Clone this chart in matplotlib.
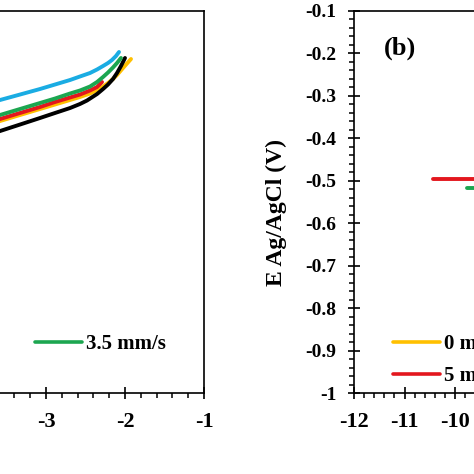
import matplotlib
matplotlib.use("Agg")
import matplotlib.pyplot as plt
from matplotlib.ticker import MultipleLocator, FuncFormatter

plt.rcParams['font.family'] = ['Liberation Serif', 'DejaVu Serif']
plt.rcParams['font.weight'] = 'bold'

# ---- data: panel (a) polarisation curves, log i vs E (V) ----
labels = ["0 mm/s", "5 mm/s", "1.5 mm/s", "2.5 mm/s", "3.5 mm/s"]
colors = ["#FFC000", "#E3171E", "#000000", "#1AACE3", "#1CA650"]

logi_0 = [-4.0, -3.582, -3.329, -3.076, -2.886, -2.696, -2.570, -2.443, -2.354,
          -2.278, -2.215, -2.152, -2.101, -2.025, -1.975, -1.924]
e_0 = [-0.3828, -0.3592, -0.3450, -0.3309, -0.3203, -0.3097, -0.3026, -0.2944,
       -0.2861, -0.2779, -0.2697, -0.2602, -0.2508, -0.2343, -0.2237, -0.2131]

logi_5 = [-4.0, -3.582, -3.329, -3.076, -2.886, -2.696, -2.570, -2.443, -2.354,
          -2.291]
e_5 = [-0.3780, -0.3545, -0.3403, -0.3262, -0.3144, -0.3038, -0.2968, -0.2873,
       -0.2791, -0.2673]

logi_blk = [-4.0, -3.582, -3.329, -3.076, -2.886, -2.696, -2.570, -2.481, -2.354,
            -2.278, -2.215, -2.152, -2.101, -2.051, -2.000]
e_blk = [-0.4087, -0.3828, -0.3675, -0.3521, -0.3403, -0.3286, -0.3191, -0.3109,
         -0.2956, -0.2838, -0.2732, -0.2602, -0.2461, -0.2296, -0.2107]

logi_cy = [-4.0, -3.582, -3.329, -3.076, -2.886, -2.696, -2.570, -2.443, -2.354,
           -2.278, -2.215, -2.165, -2.114, -2.076]
e_cy = [-0.3309, -0.3097, -0.2968, -0.2838, -0.2732, -0.2626, -0.2543, -0.2461,
        -0.2378, -0.2296, -0.2225, -0.2155, -0.2060, -0.1966]

logi_35 = [-4.0, -3.582, -3.329, -3.076, -2.886, -2.696, -2.570, -2.443, -2.354,
           -2.278, -2.215, -2.152, -2.101, -2.051]
e_35 = [-0.3686, -0.3450, -0.3309, -0.3168, -0.3062, -0.2944, -0.2873, -0.2779,
        -0.2673, -0.2555, -0.2449, -0.2331, -0.2225, -0.2107]

# ---- data: panel (b) ----
b_logi_5 = [-10.44, -9.0]
b_e_5 = [-0.496, -0.496]
b_logi_35 = [-9.76, -9.0]
b_e_35 = [-0.517, -0.517]

xt_a = [-7, -6, -5, -4, -3, -2, -1]
xt_b = [-12, -11, -10, -9, -8, -7, -6, -5, -4, -3, -2]
yt = [-1.0, -0.9, -0.8, -0.7, -0.6, -0.5, -0.4, -0.3, -0.2, -0.1]

W = H = 474
fig = plt.figure(figsize=(4.74, 4.74), dpi=100)

bot = 1 - 393 / H
hgt = (393 - 11) / H
ax1 = fig.add_axes([-270 / W, bot, 474 / W, hgt])
ax2 = fig.add_axes([354 / W, bot, 505 / W, hgt])

lw = 2.8
series = [(logi_0, e_0, 0), (logi_blk, e_blk, 2), (logi_5, e_5, 1),
          (logi_35, e_35, 4), (logi_cy, e_cy, 3)]
handles = {}
for xs, ys, k in series:
    ln, = ax1.plot(xs, ys, color=colors[k], lw=lw, label=labels[k],
                   solid_capstyle='round', solid_joinstyle='round')
    handles[k] = ln

ax2.plot(b_logi_5, b_e_5, color=colors[1], lw=lw, solid_capstyle='round')
ax2.plot(b_logi_35, b_e_35, color=colors[4], lw=lw, solid_capstyle='round')


def fmt(v, pos):
    return "%g" % round(v, 2)


for ax, xt in ((ax1, xt_a), (ax2, xt_b)):
    ax.set_xlim(xt[0], xt[-1])
    ax.set_ylim(-1.0, -0.1)
    ax.set_xticks(xt)
    ax.set_yticks(yt)
    ax.xaxis.set_minor_locator(MultipleLocator(0.2))
    ax.yaxis.set_minor_locator(MultipleLocator(0.02))
    ax.xaxis.set_major_formatter(FuncFormatter(fmt))
    ax.yaxis.set_major_formatter(FuncFormatter(fmt))
    for sp in ax.spines.values():
        sp.set_linewidth(1.2)
    ax.tick_params(which='major', direction='inout', length=8, width=1.2)
    ax.tick_params(which='minor', direction='out', length=3.8, width=1.1)
    ax.tick_params(axis='x', which='major', labelsize=16, pad=10)
    ax.tick_params(axis='y', which='major', labelsize=14, pad=8.5)
    for t in ax.get_xticklabels() + ax.get_yticklabels():
        t.set_fontweight('bold')

ax2.set_ylabel("E Ag/AgCl (V)", fontsize=17, fontweight='bold')
ax2.yaxis.set_label_coords((287 - 354) / 505, (393 - 213) / 382)
ax2.text((400 - 354) / 505, (393 - 48) / 382, "(b)", transform=ax2.transAxes,
         ha='center', va='center', fontsize=19, fontweight='bold')

order = [0, 1, 2, 3, 4]
hl = [handles[k] for k in order]
ll = [labels[k] for k in order]
leg_kw = dict(ncol=3, frameon=False, handlelength=2.26,
              handletextpad=0.2, labelspacing=0.57, columnspacing=2.6,
              borderpad=0, borderaxespad=0, prop={'weight': 'bold', 'size': 15})
ax1.legend(hl, ll, loc='upper right', bbox_to_anchor=(166 / W, 1 - 334 / H),
           bbox_transform=fig.transFigure, **leg_kw)
ax2.legend(hl, ll, loc='upper left', bbox_to_anchor=(393 / W, 1 - 334 / H),
           bbox_transform=fig.transFigure, **leg_kw)
for leg in (ax1.get_legend(), ax2.get_legend()):
    for h in leg.legend_handles:
        h.set_linewidth(2.6)

fig.savefig("out.png", dpi=100)
